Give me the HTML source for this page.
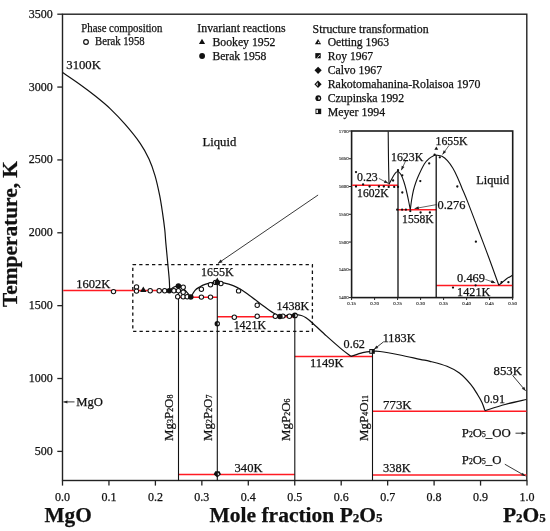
<!DOCTYPE html>
<html><head><meta charset="utf-8"><style>
html,body{margin:0;padding:0;background:#fff;}
svg{display:block;}
text{font-family:"Liberation Serif","Times New Roman",serif;fill:#111;stroke:#111;stroke-width:0.25px;}
.t12{font-size:12px;}
.t125{font-size:12.5px;}
.tc{font-size:12.9px;}
.tc .s{font-size:7.9px;}
.ti{font-size:11.8px;}
.tl{font-size:11.6px;}
.t5{font-size:4.9px;stroke:#222;stroke-width:0.1px;fill:#111;}
.tb{font-size:21.5px;font-weight:bold;}
.s{font-size:7.5px;}
.sb{font-size:13px;}
</style></head><body>
<svg width="550" height="531" viewBox="0 0 550 531">
<rect width="550" height="531" fill="#fff"/>
<rect x="62.5" y="14.2" width="464.3" height="466.3" fill="none" stroke="#222" stroke-width="1.4"/>
<line x1="57.3" y1="14.2" x2="62.5" y2="14.2" stroke="#222" stroke-width="1.3"/>
<text x="52.8" y="17.7" class="t12" text-anchor="end">3500</text>
<line x1="57.3" y1="87.06" x2="62.5" y2="87.06" stroke="#222" stroke-width="1.3"/>
<text x="52.8" y="90.56" class="t12" text-anchor="end">3000</text>
<line x1="57.3" y1="159.93" x2="62.5" y2="159.93" stroke="#222" stroke-width="1.3"/>
<text x="52.8" y="163.43" class="t12" text-anchor="end">2500</text>
<line x1="57.3" y1="232.79" x2="62.5" y2="232.79" stroke="#222" stroke-width="1.3"/>
<text x="52.8" y="236.29" class="t12" text-anchor="end">2000</text>
<line x1="57.3" y1="305.66" x2="62.5" y2="305.66" stroke="#222" stroke-width="1.3"/>
<text x="52.8" y="309.16" class="t12" text-anchor="end">1500</text>
<line x1="57.3" y1="378.52" x2="62.5" y2="378.52" stroke="#222" stroke-width="1.3"/>
<text x="52.8" y="382.02" class="t12" text-anchor="end">1000</text>
<line x1="57.3" y1="451.39" x2="62.5" y2="451.39" stroke="#222" stroke-width="1.3"/>
<text x="52.8" y="454.89" class="t12" text-anchor="end">500</text>
<line x1="62.5" y1="480.5" x2="62.5" y2="485.6" stroke="#222" stroke-width="1.3"/>
<text x="62.5" y="501.3" class="t12" text-anchor="middle">0.0</text>
<line x1="108.95" y1="480.5" x2="108.95" y2="485.6" stroke="#222" stroke-width="1.3"/>
<text x="108.95" y="501.3" class="t12" text-anchor="middle">0.1</text>
<line x1="155.4" y1="480.5" x2="155.4" y2="485.6" stroke="#222" stroke-width="1.3"/>
<text x="155.4" y="501.3" class="t12" text-anchor="middle">0.2</text>
<line x1="201.85" y1="480.5" x2="201.85" y2="485.6" stroke="#222" stroke-width="1.3"/>
<text x="201.85" y="501.3" class="t12" text-anchor="middle">0.3</text>
<line x1="248.3" y1="480.5" x2="248.3" y2="485.6" stroke="#222" stroke-width="1.3"/>
<text x="248.3" y="501.3" class="t12" text-anchor="middle">0.4</text>
<line x1="294.75" y1="480.5" x2="294.75" y2="485.6" stroke="#222" stroke-width="1.3"/>
<text x="294.75" y="501.3" class="t12" text-anchor="middle">0.5</text>
<line x1="341.2" y1="480.5" x2="341.2" y2="485.6" stroke="#222" stroke-width="1.3"/>
<text x="341.2" y="501.3" class="t12" text-anchor="middle">0.6</text>
<line x1="387.65" y1="480.5" x2="387.65" y2="485.6" stroke="#222" stroke-width="1.3"/>
<text x="387.65" y="501.3" class="t12" text-anchor="middle">0.7</text>
<line x1="434.1" y1="480.5" x2="434.1" y2="485.6" stroke="#222" stroke-width="1.3"/>
<text x="434.1" y="501.3" class="t12" text-anchor="middle">0.8</text>
<line x1="480.55" y1="480.5" x2="480.55" y2="485.6" stroke="#222" stroke-width="1.3"/>
<text x="480.55" y="501.3" class="t12" text-anchor="middle">0.9</text>
<line x1="527" y1="480.5" x2="527" y2="485.6" stroke="#222" stroke-width="1.3"/>
<text x="527" y="501.3" class="t12" text-anchor="middle">1.0</text>
<text x="44.5" y="522.3" class="tb" textLength="47.3" lengthAdjust="spacingAndGlyphs">MgO</text>
<text x="209.5" y="522.3" class="tb">Mole fraction P<tspan class="sb">2</tspan>O<tspan class="sb">5</tspan></text>
<text x="502.9" y="522.3" class="tb">P<tspan class="sb">2</tspan>O<tspan class="sb">5</tspan></text>
<text transform="translate(16.9,234) rotate(-90)" class="tb" text-anchor="middle" textLength="146" lengthAdjust="spacingAndGlyphs">Temperature, K</text>
<text x="81.3" y="31.5" class="tl" textLength="81.1" lengthAdjust="spacingAndGlyphs">Phase composition</text>
<circle cx="86" cy="42" r="2.35" fill="#fff" stroke="#111" stroke-width="1.15"/>
<text x="95.1" y="45.1" class="tl" textLength="49.5" lengthAdjust="spacingAndGlyphs">Berak 1958</text>
<text x="197.3" y="31.7" class="tl" textLength="88.2" lengthAdjust="spacingAndGlyphs">Invariant reactions</text>
<path d="M202,38.8 L205.1,44.1 L198.9,44.1 Z" fill="#111"/>
<text x="212.4" y="45.5" class="tl" textLength="63.1" lengthAdjust="spacingAndGlyphs">Bookey 1952</text>
<circle cx="202.1" cy="56" r="2.9" fill="#111"/>
<text x="212.4" y="59.5" class="tl" textLength="54" lengthAdjust="spacingAndGlyphs">Berak 1958</text>
<text x="312.6" y="32.8" class="tl" textLength="116" lengthAdjust="spacingAndGlyphs">Structure transformation</text>
<path d="M318,38.9 L321.1,44.3 L314.9,44.3 Z" fill="#111"/><circle cx="318.7" cy="42.6" r="0.75" fill="#fff"/>
<text x="327.7" y="46.3" class="tl" textLength="61.3" lengthAdjust="spacingAndGlyphs">Oetting 1963</text>
<rect x="315.3" y="53.1" width="5.4" height="5.2" fill="#111"/><line x1="317.3" y1="57.5" x2="319.9" y2="55" stroke="#fff" stroke-width="0.9"/>
<text x="327.7" y="59.5" class="tl" textLength="45.5" lengthAdjust="spacingAndGlyphs">Roy 1967</text>
<path d="M318.1,66.7 L321.7,70.3 L318.1,73.9 L314.5,70.3 Z" fill="#111"/>
<text x="327.7" y="73.9" class="tl" textLength="54.3" lengthAdjust="spacingAndGlyphs">Calvo 1967</text>
<path d="M318,80.6 L321.6,84.3 L318,88 L314.4,84.3 Z" fill="#111"/><path d="M316.1,84.3 L317.7,82.3 L317.7,86.3 Z" fill="#fff"/>
<text x="327.7" y="88.2" class="tl" textLength="152.7" lengthAdjust="spacingAndGlyphs">Rakotomahanina-Rolaisoa 1970</text>
<circle cx="318.3" cy="98.2" r="2.9" fill="#111"/><path d="M318.4,96.7 A1.5,1.5 0 0 1 318.4,99.7 Z" fill="#fff"/>
<text x="327.7" y="101.7" class="tl" textLength="76.5" lengthAdjust="spacingAndGlyphs">Czupinska 1992</text>
<rect x="315.5" y="108.7" width="5.7" height="5.4" fill="#111"/><rect x="316.4" y="109.8" width="1.5" height="3.2" fill="#fff"/>
<text x="327.7" y="115.6" class="tl" textLength="57.5" lengthAdjust="spacingAndGlyphs">Meyer 1994</text>
<text x="66.3" y="68.5" class="t125" textLength="34.6" lengthAdjust="spacingAndGlyphs">3100K</text>
<text x="202.5" y="145.9" class="t125" textLength="33.8" lengthAdjust="spacingAndGlyphs">Liquid</text>
<text x="76.3" y="287.5" class="t125" textLength="34" lengthAdjust="spacingAndGlyphs">1602K</text>
<text x="200.9" y="276" class="t125" textLength="32.7" lengthAdjust="spacingAndGlyphs">1655K</text>
<text x="276.4" y="310.1" class="t125" textLength="32.7" lengthAdjust="spacingAndGlyphs">1438K</text>
<text x="233.7" y="329.3" class="t125" textLength="32.3" lengthAdjust="spacingAndGlyphs">1421K</text>
<text x="343.6" y="347.7" class="t125" textLength="21.3" lengthAdjust="spacingAndGlyphs">0.62</text>
<text x="310" y="366.8" class="t125" textLength="33.6" lengthAdjust="spacingAndGlyphs">1149K</text>
<text x="382.7" y="341.8" class="t125" textLength="32.8" lengthAdjust="spacingAndGlyphs">1183K</text>
<text x="483.7" y="403.3" class="t125" textLength="21.3" lengthAdjust="spacingAndGlyphs">0.91</text>
<text x="493.6" y="374.5" class="t125" textLength="28.4" lengthAdjust="spacingAndGlyphs">853K</text>
<text x="383.1" y="408.9" class="t125" textLength="28.5" lengthAdjust="spacingAndGlyphs">773K</text>
<text x="383.1" y="472.0" class="t125" textLength="27.6" lengthAdjust="spacingAndGlyphs">338K</text>
<text x="234.6" y="471.6" class="t125" textLength="27.9" lengthAdjust="spacingAndGlyphs">340K</text>
<text x="76.3" y="405.7" class="t125" textLength="26.7" lengthAdjust="spacingAndGlyphs">MgO</text>
<text x="461.8" y="436.6" class="t125" textLength="49" lengthAdjust="spacingAndGlyphs">P<tspan class="s">2</tspan>O<tspan class="s">5</tspan>_OO</text>
<text x="461.8" y="463.9" class="t125" textLength="39.6" lengthAdjust="spacingAndGlyphs">P<tspan class="s">2</tspan>O<tspan class="s">5</tspan>_O</text>
<text transform="translate(173.4,440.9) rotate(-90)" class="tc">Mg<tspan class="s">3</tspan>P<tspan class="s">2</tspan>O<tspan class="s">8</tspan></text>
<text transform="translate(212.2,440.9) rotate(-90)" class="tc">Mg<tspan class="s">2</tspan>P<tspan class="s">2</tspan>O<tspan class="s">7</tspan></text>
<text transform="translate(289.8,440.9) rotate(-90)" class="tc">MgP<tspan class="s">2</tspan>O<tspan class="s">6</tspan></text>
<text transform="translate(367.6,440.9) rotate(-90)" class="tc">MgP<tspan class="s">4</tspan>O<tspan class="s">11</tspan></text>
<line x1="63.2" y1="290.5" x2="178.5" y2="290.5" stroke="#ff1a22" stroke-width="1.5"/>
<line x1="178.5" y1="297.2" x2="217.3" y2="297.2" stroke="#ff1a22" stroke-width="1.5"/>
<line x1="217.3" y1="316.8" x2="294.8" y2="316.8" stroke="#ff1a22" stroke-width="1.5"/>
<line x1="294.8" y1="356.4" x2="372.5" y2="356.4" stroke="#ff1a22" stroke-width="1.5"/>
<line x1="372.5" y1="411.2" x2="526.5" y2="411.2" stroke="#ff1a22" stroke-width="1.5"/>
<line x1="178.5" y1="474.4" x2="294.8" y2="474.4" stroke="#ff1a22" stroke-width="1.5"/>
<line x1="372.5" y1="474.9" x2="526.5" y2="474.9" stroke="#ff1a22" stroke-width="1.5"/>
<line x1="178.5" y1="287" x2="178.5" y2="480.5" stroke="#111" stroke-width="1.1"/>
<line x1="217.3" y1="279" x2="217.3" y2="480.5" stroke="#111" stroke-width="1.1"/>
<line x1="294.8" y1="315" x2="294.8" y2="480.5" stroke="#111" stroke-width="1.1"/>
<line x1="372.5" y1="351.4" x2="372.5" y2="480.5" stroke="#111" stroke-width="1.1"/>
<path d="M62.6,72.6 C65.5,74.58 74.6,80.63 80,84.5 C85.4,88.37 89.98,91.78 95,95.8 C100.02,99.82 105.07,103.83 110.1,108.6 C115.13,113.37 120.18,118.62 125.2,124.4 C130.22,130.18 136.23,137.53 140.2,143.3 C144.17,149.07 146.53,153.62 149,159 C151.47,164.38 153.23,169.57 155,175.6 C156.77,181.63 158.33,188.92 159.6,195.2 C160.87,201.48 161.73,207.5 162.6,213.3 C163.47,219.1 164.27,225.12 164.8,230 C165.33,234.88 165.3,236.98 165.8,242.6 C166.3,248.22 167.22,257.43 167.8,263.7 C168.38,269.97 168.98,275.7 169.3,280.2 C169.62,284.7 169.63,288.95 169.7,290.7" fill="none" stroke="#111" stroke-width="1.2"/>
<path d="M169.5,290.7 C170.17,290.13 172.02,288.05 173.5,287.3 C174.98,286.55 176.78,286 178.4,286.2 C180.02,286.4 181.77,287.47 183.2,288.5 C184.63,289.53 185.73,290.95 187,292.4 C188.27,293.85 190.17,296.4 190.8,297.2" fill="none" stroke="#111" stroke-width="1.2"/>
<path d="M190.8,297.2 C191.5,296.05 193.47,292.03 195,290.3 C196.53,288.57 198.33,287.78 200,286.8 C201.67,285.82 203.25,285.05 205,284.4 C206.75,283.75 208.53,283.28 210.5,282.9 C212.47,282.52 214.62,282.1 216.8,282.1 C218.98,282.1 220.87,282.32 223.6,282.9 C226.33,283.48 230.3,284.5 233.2,285.6 C236.1,286.7 238.28,287.85 241,289.5 C243.72,291.15 246.1,293.02 249.5,295.5 C252.9,297.98 257.98,301.85 261.4,304.4 C264.82,306.95 266.97,308.73 270,310.8 C273.03,312.87 278,315.8 279.6,316.8" fill="none" stroke="#111" stroke-width="1.2"/>
<path d="M279.6,316.8 C280.83,316.57 284.45,315.77 287,315.4 C289.55,315.03 292.5,314.58 294.9,314.6 C297.3,314.62 299.55,314.97 301.4,315.5 C303.25,316.03 304.12,316.52 306,317.8 C307.88,319.08 309.3,320.18 312.7,323.2 C316.1,326.22 321.7,331.67 326.4,335.9 C331.1,340.13 336.82,345.18 340.9,348.6 C344.98,352.02 349.23,355.1 350.9,356.4" fill="none" stroke="#111" stroke-width="1.2"/>
<path d="M350.9,356.4 C352.87,355.77 359.07,353.43 362.7,352.6 C366.33,351.77 369.82,351.58 372.7,351.4 C375.58,351.22 375.45,350.9 380,351.5 C384.55,352.1 393.33,353.7 400,355 C406.67,356.3 415,358.25 420,359.3 C425,360.35 425.5,360.13 430,361.3 C434.5,362.47 442.1,364.33 447,366.3 C451.9,368.27 455.45,370.08 459.4,373.1 C463.35,376.12 467.68,380.83 470.7,384.4 C473.72,387.97 475.62,391.48 477.5,394.5 C479.38,397.52 480.77,399.83 482,402.5 C483.23,405.17 484.42,409.17 484.9,410.5" fill="none" stroke="#111" stroke-width="1.2"/>
<path d="M484.9,410.8 C488.25,409.75 498.08,406.38 505,404.5 C511.92,402.62 522.83,400.33 526.4,399.5" fill="none" stroke="#111" stroke-width="1.2"/>
<rect x="132.8" y="264.6" width="179.6" height="66.8" fill="none" stroke="#111" stroke-width="1.3" stroke-dasharray="3.3 3.1"/>
<line x1="318.1" y1="195" x2="217.9" y2="263.4" stroke="#222" stroke-width="0.9"/>
<path d="M217.9,263.4 L220.6,259.38 L222.63,262.35 Z" fill="#222"/>
<line x1="383.6" y1="341.8" x2="374.2" y2="349.2" stroke="#222" stroke-width="0.9"/>
<path d="M374.2,349.2 L376.35,345.47 L378.33,347.98 Z" fill="#222"/>
<line x1="512.5" y1="375.3" x2="525.6" y2="390.8" stroke="#222" stroke-width="0.9"/>
<path d="M525.6,390.8 L521.8,388.78 L524.24,386.71 Z" fill="#222"/>
<line x1="515.5" y1="433.2" x2="525.6" y2="433.2" stroke="#222" stroke-width="0.9"/>
<path d="M525.6,433.2 L521.6,434.7 L521.6,431.7 Z" fill="#222"/>
<line x1="504.8" y1="464.2" x2="525.4" y2="476" stroke="#222" stroke-width="0.9"/>
<path d="M525.4,476 L521.18,475.31 L522.67,472.71 Z" fill="#222"/>
<line x1="74.5" y1="401.9" x2="63.4" y2="401.9" stroke="#222" stroke-width="0.9"/>
<path d="M63.4,401.9 L67.4,400.4 L67.4,403.4 Z" fill="#222"/>
<circle cx="113.5" cy="291.6" r="2.2" fill="#fff" stroke="#111" stroke-width="1.05"/>
<circle cx="136.5" cy="287" r="2.2" fill="#fff" stroke="#111" stroke-width="1.05"/>
<circle cx="136.5" cy="291.1" r="2.2" fill="#fff" stroke="#111" stroke-width="1.05"/>
<circle cx="150.2" cy="290.8" r="2.2" fill="#fff" stroke="#111" stroke-width="1.05"/>
<circle cx="159.2" cy="290.8" r="2.2" fill="#fff" stroke="#111" stroke-width="1.05"/>
<circle cx="164.7" cy="290.8" r="2.2" fill="#fff" stroke="#111" stroke-width="1.05"/>
<circle cx="173.9" cy="290.7" r="2.2" fill="#fff" stroke="#111" stroke-width="1.05"/>
<circle cx="178.4" cy="290.7" r="2.2" fill="#fff" stroke="#111" stroke-width="1.05"/>
<circle cx="183.2" cy="287.2" r="2.2" fill="#fff" stroke="#111" stroke-width="1.05"/>
<circle cx="183.2" cy="292.3" r="2.2" fill="#fff" stroke="#111" stroke-width="1.05"/>
<circle cx="177.7" cy="296.8" r="2.2" fill="#fff" stroke="#111" stroke-width="1.05"/>
<circle cx="183.2" cy="296.8" r="2.2" fill="#fff" stroke="#111" stroke-width="1.05"/>
<circle cx="187.2" cy="296.8" r="2.2" fill="#fff" stroke="#111" stroke-width="1.05"/>
<circle cx="201.4" cy="289.2" r="2.2" fill="#fff" stroke="#111" stroke-width="1.05"/>
<circle cx="210.5" cy="284.8" r="2.2" fill="#fff" stroke="#111" stroke-width="1.05"/>
<circle cx="215.5" cy="282.4" r="2.2" fill="#fff" stroke="#111" stroke-width="1.05"/>
<circle cx="220.9" cy="283.5" r="2.2" fill="#fff" stroke="#111" stroke-width="1.05"/>
<circle cx="238.6" cy="290.9" r="2.2" fill="#fff" stroke="#111" stroke-width="1.05"/>
<circle cx="201.4" cy="297.1" r="2.2" fill="#fff" stroke="#111" stroke-width="1.05"/>
<circle cx="210.5" cy="297.1" r="2.2" fill="#fff" stroke="#111" stroke-width="1.05"/>
<circle cx="234.3" cy="317.2" r="2.2" fill="#fff" stroke="#111" stroke-width="1.05"/>
<circle cx="257.2" cy="316.3" r="2.2" fill="#fff" stroke="#111" stroke-width="1.05"/>
<circle cx="257.2" cy="305.3" r="2.2" fill="#fff" stroke="#111" stroke-width="1.05"/>
<circle cx="275.3" cy="316.3" r="2.2" fill="#fff" stroke="#111" stroke-width="1.05"/>
<circle cx="282.9" cy="316.1" r="2.2" fill="#fff" stroke="#111" stroke-width="1.05"/>
<circle cx="289.4" cy="316.3" r="2.2" fill="#fff" stroke="#111" stroke-width="1.05"/>
<circle cx="169.3" cy="290.7" r="2.75" fill="#111"/>
<circle cx="178.4" cy="286" r="2.75" fill="#111"/>
<circle cx="190.8" cy="297.1" r="2.75" fill="#111"/>
<circle cx="217.3" cy="282.6" r="2.75" fill="#111"/>
<circle cx="279.9" cy="316.4" r="2.75" fill="#111"/>
<circle cx="294.9" cy="315.4" r="2.9" fill="#111"/><path d="M295.3,313.9 A1.5,1.5 0 0 1 295.3,316.9 Z" fill="#fff"/>
<path d="M143.3,286.6 L146.5,292.1 L140.1,292.1 Z" fill="#111"/>
<path d="M217.3,277.6 L219.5,281.8 L215.1,281.8 Z" fill="#111"/>
<circle cx="217.3" cy="323.7" r="2.7" fill="#111"/><path d="M217.7,322.5 A1.2,1.2 0 0 1 217.7,324.9 Z" fill="#fff"/>
<path d="M215.3,471.3 L219.5,471.3 L221,474.3 L217.3,477.6 L213.6,474.3 Z" fill="#111"/><path d="M217.8,472.6 L219.3,474.2 L217.8,475.6 Z" fill="#fff"/>
<rect x="369.3" y="349.0" width="5.5" height="4.8" fill="#111"/><rect x="370.3" y="350.1" width="1.4" height="2.7" fill="#fff"/>
<rect x="351.6" y="131" width="161.1" height="166.6" fill="#fff" stroke="#1a1a1a" stroke-width="1.6"/>
<line x1="349" y1="131" x2="351.6" y2="131" stroke="#222" stroke-width="1"/>
<text x="348.6" y="132.6" class="t5" text-anchor="end">1700</text>
<line x1="349" y1="158.76" x2="351.6" y2="158.76" stroke="#222" stroke-width="1"/>
<text x="348.6" y="160.36" class="t5" text-anchor="end">1650</text>
<line x1="349" y1="186.53" x2="351.6" y2="186.53" stroke="#222" stroke-width="1"/>
<text x="348.6" y="188.13" class="t5" text-anchor="end">1600</text>
<line x1="349" y1="214.3" x2="351.6" y2="214.3" stroke="#222" stroke-width="1"/>
<text x="348.6" y="215.9" class="t5" text-anchor="end">1550</text>
<line x1="349" y1="242.06" x2="351.6" y2="242.06" stroke="#222" stroke-width="1"/>
<text x="348.6" y="243.66" class="t5" text-anchor="end">1500</text>
<line x1="349" y1="269.83" x2="351.6" y2="269.83" stroke="#222" stroke-width="1"/>
<text x="348.6" y="271.43" class="t5" text-anchor="end">1450</text>
<line x1="349" y1="297.59" x2="351.6" y2="297.59" stroke="#222" stroke-width="1"/>
<text x="348.6" y="299.19" class="t5" text-anchor="end">1400</text>
<line x1="351.6" y1="297.6" x2="351.6" y2="300" stroke="#222" stroke-width="1"/>
<text x="351.6" y="305" class="t5" text-anchor="middle">0.15</text>
<line x1="374.6" y1="297.6" x2="374.6" y2="300" stroke="#222" stroke-width="1"/>
<text x="374.6" y="305" class="t5" text-anchor="middle">0.20</text>
<line x1="397.6" y1="297.6" x2="397.6" y2="300" stroke="#222" stroke-width="1"/>
<text x="397.6" y="305" class="t5" text-anchor="middle">0.25</text>
<line x1="420.6" y1="297.6" x2="420.6" y2="300" stroke="#222" stroke-width="1"/>
<text x="420.6" y="305" class="t5" text-anchor="middle">0.30</text>
<line x1="443.6" y1="297.6" x2="443.6" y2="300" stroke="#222" stroke-width="1"/>
<text x="443.6" y="305" class="t5" text-anchor="middle">0.35</text>
<line x1="466.6" y1="297.6" x2="466.6" y2="300" stroke="#222" stroke-width="1"/>
<text x="466.6" y="305" class="t5" text-anchor="middle">0.40</text>
<line x1="489.6" y1="297.6" x2="489.6" y2="300" stroke="#222" stroke-width="1"/>
<text x="489.6" y="305" class="t5" text-anchor="middle">0.45</text>
<line x1="512.6" y1="297.6" x2="512.6" y2="300" stroke="#222" stroke-width="1"/>
<text x="512.6" y="305" class="t5" text-anchor="middle">0.50</text>
<line x1="352.2" y1="185.3" x2="398" y2="185.3" stroke="#ff1a22" stroke-width="1.6"/>
<line x1="398" y1="209.7" x2="436.2" y2="209.7" stroke="#ff1a22" stroke-width="1.6"/>
<line x1="436.2" y1="285.5" x2="512.2" y2="285.5" stroke="#ff1a22" stroke-width="1.6"/>
<line x1="398" y1="170.5" x2="398" y2="297.6" stroke="#1a1a1a" stroke-width="1.35"/>
<line x1="436.2" y1="154.9" x2="436.2" y2="297.6" stroke="#111" stroke-width="1.3"/>
<path d="M388.2,131.6 C388.25,136.33 388.37,151.23 388.5,160 C388.63,168.77 388.92,180.17 389,184.2" fill="none" stroke="#111" stroke-width="1.1"/>
<path d="M389,184.2 C389.42,183.42 390.67,181.03 391.5,179.5 C392.33,177.97 393.2,176.22 394,175 C394.8,173.78 395.63,172.82 396.3,172.2 C396.97,171.58 397.72,171.45 398,171.3" fill="none" stroke="#111" stroke-width="1.1"/>
<path d="M398,171.3 C398.53,171.9 400.23,173.2 401.2,174.9 C402.17,176.6 402.97,178.98 403.8,181.5 C404.63,184.02 405.43,186.92 406.2,190 C406.97,193.08 407.72,196.73 408.4,200 C409.08,203.27 409.98,208 410.3,209.6" fill="none" stroke="#111" stroke-width="1.1"/>
<path d="M410.3,209.6 C410.52,208 411.08,203.18 411.6,200 C412.12,196.82 412.7,193.42 413.4,190.5 C414.1,187.58 414.9,185.08 415.8,182.5 C416.7,179.92 417.38,178.08 418.8,175 C420.22,171.92 422.6,166.73 424.3,164 C426,161.27 427.37,160.03 429,158.6 C430.63,157.17 432.9,156 434.1,155.4 C435.3,154.8 435.85,155.07 436.2,155" fill="none" stroke="#111" stroke-width="1.1"/>
<path d="M436.2,155 C437.17,155.22 440.13,155.37 442,156.3 C443.87,157.23 445.58,158.62 447.4,160.6 C449.22,162.58 451.25,165.48 452.9,168.2 C454.55,170.92 455.82,173.65 457.3,176.9 C458.78,180.15 460.07,183.53 461.8,187.7 C463.53,191.87 464.93,194.85 467.7,201.9 C470.47,208.95 474.92,220.82 478.4,230 C481.88,239.18 485.2,247.8 488.6,257 C492,266.2 497.1,280.5 498.8,285.2" fill="none" stroke="#111" stroke-width="1.1"/>
<path d="M498.8,285.2 C499.27,284.83 500.3,284.07 501.6,283 C502.9,281.93 504.8,280.08 506.6,278.8 C508.4,277.52 511.43,275.88 512.4,275.3" fill="none" stroke="#111" stroke-width="1.1"/>
<circle cx="356" cy="172.1" r="1.15" fill="#111"/>
<circle cx="363.1" cy="184.4" r="1.15" fill="#111"/>
<circle cx="356" cy="186.5" r="1.15" fill="#111"/>
<circle cx="369.6" cy="186.5" r="1.15" fill="#111"/>
<circle cx="378.9" cy="186.5" r="1.15" fill="#111"/>
<circle cx="383.8" cy="186.5" r="1.15" fill="#111"/>
<circle cx="388.7" cy="186.9" r="1.15" fill="#111"/>
<circle cx="394.2" cy="186.9" r="1.15" fill="#111"/>
<circle cx="398" cy="186.9" r="1.15" fill="#111"/>
<circle cx="393.1" cy="180.5" r="1.15" fill="#111"/>
<circle cx="398" cy="170.2" r="1.15" fill="#111"/>
<circle cx="402.3" cy="175.3" r="1.15" fill="#111"/>
<circle cx="402.3" cy="192.5" r="1.15" fill="#111"/>
<circle cx="397.2" cy="209.7" r="1.15" fill="#111"/>
<circle cx="402.1" cy="209.7" r="1.15" fill="#111"/>
<circle cx="405.9" cy="209.7" r="1.15" fill="#111"/>
<circle cx="410.3" cy="211.1" r="1.15" fill="#111"/>
<circle cx="420.6" cy="212.5" r="1.15" fill="#111"/>
<circle cx="429.9" cy="212.5" r="1.15" fill="#111"/>
<circle cx="420.3" cy="181.1" r="1.15" fill="#111"/>
<circle cx="429.2" cy="163.4" r="1.15" fill="#111"/>
<circle cx="434.6" cy="154.7" r="1.15" fill="#111"/>
<circle cx="439.8" cy="157.3" r="1.15" fill="#111"/>
<circle cx="457.3" cy="186.5" r="1.15" fill="#111"/>
<circle cx="475.9" cy="241.7" r="1.15" fill="#111"/>
<circle cx="453" cy="287.6" r="1.15" fill="#111"/>
<circle cx="475.6" cy="285.3" r="1.15" fill="#111"/>
<circle cx="492.9" cy="282.2" r="1.15" fill="#111"/>
<circle cx="501.6" cy="282.2" r="1.15" fill="#111"/>
<circle cx="508.4" cy="282.2" r="1.15" fill="#111"/>
<path d="M436.3,146.4 L438.2,149.8 L434.4,149.8 Z" fill="#111"/>
<text x="357.1" y="180.8" class="ti" textLength="20.7" lengthAdjust="spacingAndGlyphs">0.23</text>
<text x="357.1" y="196.9" class="ti" textLength="31.6" lengthAdjust="spacingAndGlyphs">1602K</text>
<text x="391.0" y="160.5" class="ti" textLength="32.2" lengthAdjust="spacingAndGlyphs">1623K</text>
<text x="435.5" y="144.7" class="ti" textLength="32.1" lengthAdjust="spacingAndGlyphs">1655K</text>
<text x="437.5" y="209.4" class="ti" textLength="27.9" lengthAdjust="spacingAndGlyphs">0.276</text>
<text x="402.1" y="222.7" class="ti" textLength="31.6" lengthAdjust="spacingAndGlyphs">1558K</text>
<text x="476.2" y="184.0" class="ti" textLength="32.9" lengthAdjust="spacingAndGlyphs">Liquid</text>
<text x="457.1" y="282.2" class="ti" textLength="27.9" lengthAdjust="spacingAndGlyphs">0.469</text>
<text x="457.1" y="295.6" class="ti" textLength="33.2" lengthAdjust="spacingAndGlyphs">1421K</text>
<line x1="378.9" y1="178.4" x2="388.2" y2="183.3" stroke="#222" stroke-width="0.7"/>
<path d="M388.2,183.3 L383.79,182.67 L385.18,180.02 Z" fill="#222"/>
<line x1="405.6" y1="160.9" x2="401.3" y2="170.2" stroke="#222" stroke-width="0.7"/>
<path d="M401.3,170.2 L401.7,165.76 L404.42,167.02 Z" fill="#222"/>
<line x1="449.1" y1="145.3" x2="442.5" y2="154.5" stroke="#222" stroke-width="0.7"/>
<path d="M442.5,154.5 L443.73,150.21 L446.17,151.96 Z" fill="#222"/>
<line x1="437" y1="204.5" x2="414.6" y2="208.6" stroke="#222" stroke-width="0.7"/>
<path d="M414.6,208.6 L418.46,206.37 L419,209.32 Z" fill="#222"/>
<line x1="485.4" y1="279.4" x2="495.3" y2="282.9" stroke="#222" stroke-width="0.7"/>
<path d="M495.3,282.9 L490.84,282.91 L491.84,280.09 Z" fill="#222"/>
</svg>
</body></html>
